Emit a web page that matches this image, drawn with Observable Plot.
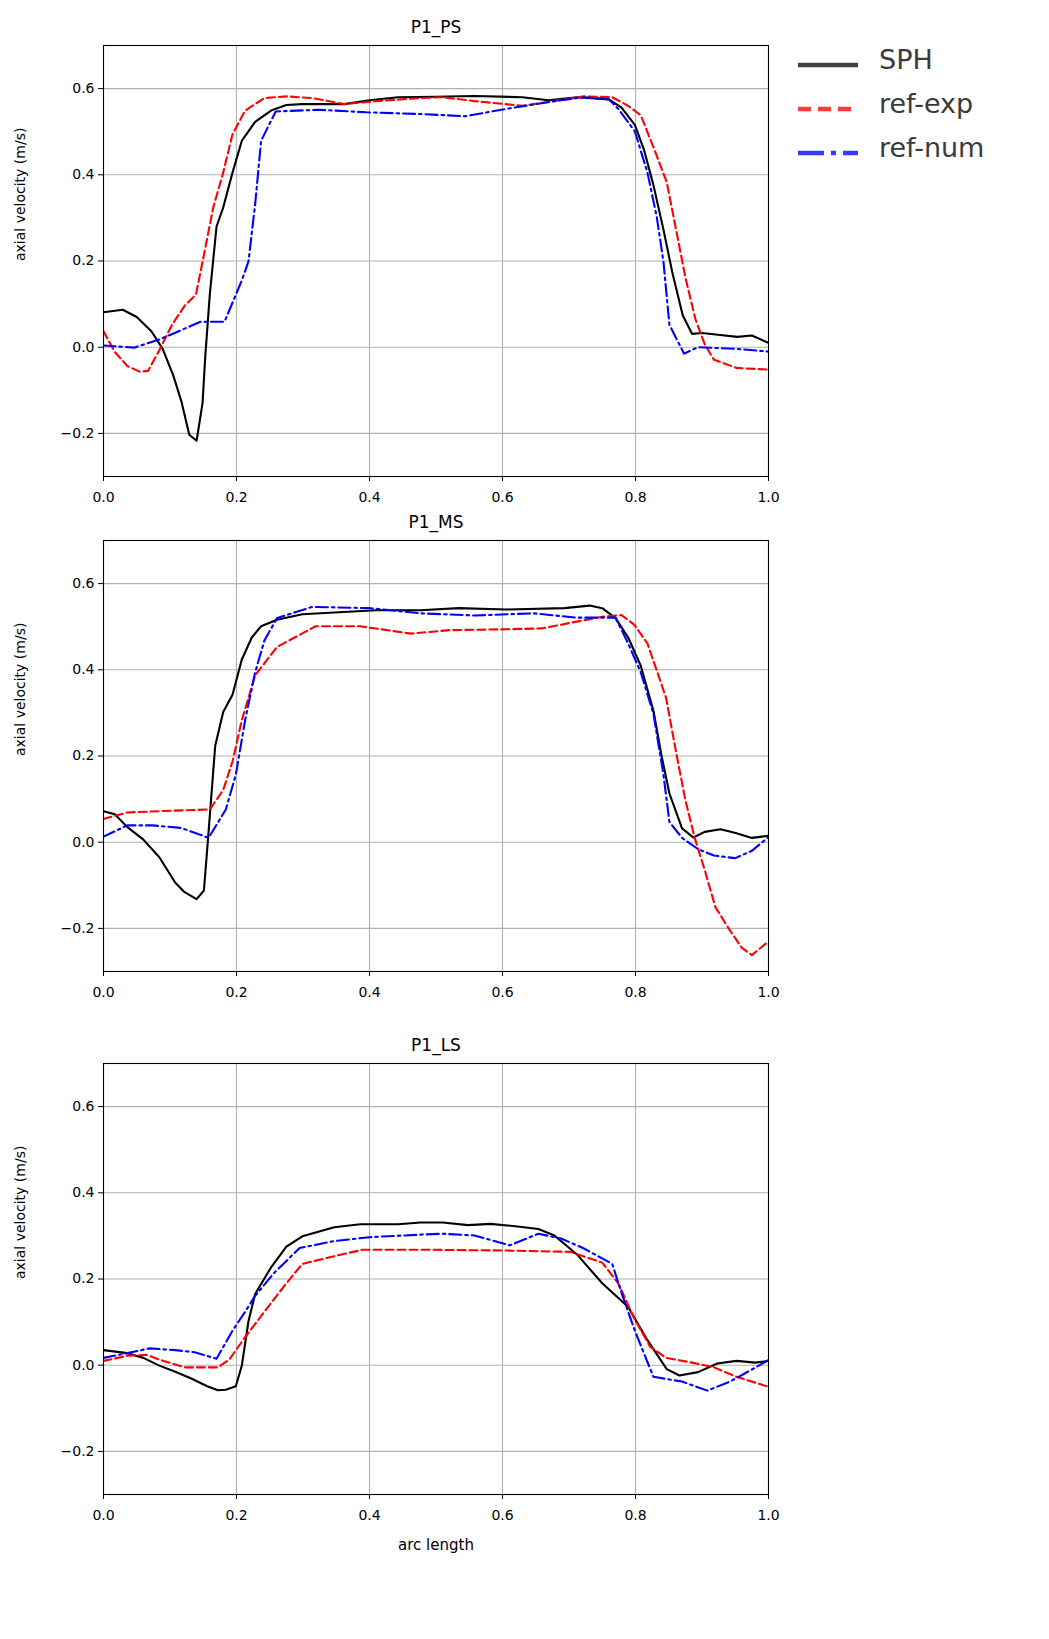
<!DOCTYPE html>
<html>
<head>
<meta charset="utf-8">
<script src="https://cdn.jsdelivr.net/npm/d3@7"></script>
<script src="https://cdn.jsdelivr.net/npm/@observablehq/plot@0.6"></script>
<style>
  html, body { margin: 0; padding: 0; background: #fff; }
  body { width: 1049px; height: 1639px; position: relative; overflow: hidden; font-family: "DejaVu Sans", sans-serif; }
  .panel { position: absolute; left: 0; }
  #legend { position: absolute; left: 797px; top: 42px; font-family: "DejaVu Sans", sans-serif; font-size: 27px; color: #3a3a3a; }
  .item { position: relative; height: 44px; }
  .item svg { position: absolute; left: 0; top: 8px; }
  .item span { position: absolute; left: 82px; top: 2px; white-space: nowrap; }
</style>
</head>
<body>
<div id="legend"></div>
<script>
// ---- data (x = arc length, y = axial velocity m/s) ----
const seriesNames = ["SPH", "ref-exp", "ref-num"];
const panelTitles = ["P1_PS", "P1_MS", "P1_LS"];
const xTicks = [0, 0.2, 0.4, 0.6, 0.8, 1.0];
const yTicks = [-0.2, 0, 0.2, 0.4, 0.6];

const PS_SPH = [[0,0.081],[0.029,0.087],[0.05,0.07],[0.072,0.037],[0.089,-0.004],[0.105,-0.066],[0.117,-0.125],[0.129,-0.203],[0.140,-0.217],[0.149,-0.129],[0.153,-0.022],[0.160,0.125],[0.170,0.28],[0.180,0.324],[0.194,0.405],[0.208,0.479],[0.228,0.523],[0.252,0.549],[0.275,0.562],[0.299,0.564],[0.362,0.564],[0.40,0.573],[0.443,0.58],[0.50,0.581],[0.558,0.583],[0.630,0.58],[0.669,0.573],[0.712,0.580],[0.760,0.575],[0.779,0.556],[0.799,0.516],[0.813,0.457],[0.827,0.376],[0.842,0.273],[0.856,0.169],[0.871,0.074],[0.885,0.031],[0.900,0.033],[0.924,0.029],[0.953,0.024],[0.975,0.027],[1.0,0.01]];
const PS_EXP = [[0,0.037],[0.017,-0.011],[0.036,-0.044],[0.055,-0.057],[0.067,-0.055],[0.084,-0.007],[0.103,0.052],[0.122,0.096],[0.139,0.122],[0.151,0.214],[0.165,0.324],[0.18,0.405],[0.194,0.494],[0.213,0.549],[0.242,0.578],[0.275,0.582],[0.314,0.578],[0.362,0.564],[0.41,0.571],[0.477,0.578],[0.51,0.58],[0.558,0.571],[0.630,0.56],[0.678,0.571],[0.722,0.582],[0.765,0.580],[0.789,0.56],[0.808,0.538],[0.827,0.464],[0.847,0.383],[0.861,0.273],[0.875,0.162],[0.890,0.066],[0.904,0.007],[0.918,-0.029],[0.952,-0.048],[1.0,-0.052]];
const PS_NUM = [[0,0.004],[0.046,-0.001],[0.084,0.018],[0.113,0.037],[0.146,0.059],[0.182,0.059],[0.208,0.155],[0.218,0.199],[0.228,0.331],[0.237,0.479],[0.259,0.547],[0.323,0.551],[0.395,0.545],[0.477,0.541],[0.544,0.536],[0.606,0.553],[0.678,0.571],[0.722,0.58],[0.76,0.575],[0.774,0.553],[0.799,0.501],[0.818,0.405],[0.832,0.302],[0.842,0.199],[0.851,0.052],[0.873,-0.015],[0.894,0.0],[0.952,-0.004],[1.0,-0.01]];

const MS_SPH = [[0,0.072],[0.017,0.065],[0.036,0.035],[0.06,0.006],[0.084,-0.035],[0.108,-0.094],[0.122,-0.116],[0.140,-0.132],[0.151,-0.112],[0.158,0.024],[0.168,0.224],[0.180,0.302],[0.194,0.342],[0.208,0.424],[0.223,0.475],[0.237,0.501],[0.261,0.516],[0.299,0.529],[0.347,0.533],[0.41,0.538],[0.477,0.538],[0.534,0.543],[0.606,0.540],[0.693,0.543],[0.731,0.549],[0.750,0.543],[0.77,0.52],[0.789,0.475],[0.808,0.409],[0.827,0.305],[0.839,0.202],[0.851,0.113],[0.870,0.032],[0.887,0.011],[0.904,0.024],[0.928,0.030],[0.952,0.021],[0.975,0.01],[1.0,0.015]];
const MS_EXP = [[0,0.054],[0.036,0.069],[0.084,0.072],[0.160,0.076],[0.18,0.121],[0.194,0.187],[0.208,0.283],[0.228,0.387],[0.261,0.453],[0.319,0.501],[0.386,0.501],[0.462,0.484],[0.52,0.492],[0.606,0.494],[0.659,0.496],[0.702,0.509],[0.75,0.523],[0.779,0.527],[0.798,0.505],[0.818,0.461],[0.846,0.335],[0.861,0.209],[0.875,0.098],[0.889,0.01],[0.904,-0.064],[0.92,-0.15],[0.94,-0.2],[0.96,-0.245],[0.975,-0.262],[1.0,-0.23]];
const MS_NUM = [[0,0.013],[0.036,0.039],[0.074,0.039],[0.117,0.033],[0.158,0.010],[0.184,0.076],[0.199,0.157],[0.213,0.283],[0.228,0.394],[0.242,0.468],[0.261,0.52],[0.314,0.546],[0.40,0.543],[0.477,0.531],[0.558,0.526],[0.647,0.531],[0.712,0.521],[0.77,0.521],[0.789,0.461],[0.808,0.394],[0.827,0.298],[0.842,0.157],[0.851,0.047],[0.870,0.010],[0.894,-0.016],[0.918,-0.031],[0.95,-0.037],[0.975,-0.02],[1.0,0.012]];

const LS_SPH = [[0,0.035],[0.036,0.028],[0.06,0.017],[0.084,-0.001],[0.108,-0.015],[0.132,-0.031],[0.156,-0.049],[0.172,-0.058],[0.184,-0.057],[0.199,-0.049],[0.208,-0.001],[0.218,0.102],[0.228,0.165],[0.252,0.227],[0.275,0.275],[0.299,0.299],[0.347,0.32],[0.386,0.327],[0.443,0.327],[0.477,0.331],[0.51,0.331],[0.548,0.325],[0.582,0.328],[0.616,0.323],[0.654,0.316],[0.678,0.301],[0.712,0.257],[0.75,0.19],[0.789,0.135],[0.818,0.058],[0.847,-0.009],[0.866,-0.024],[0.894,-0.016],[0.923,0.004],[0.952,0.01],[0.98,0.006],[1.0,0.01]];
const LS_EXP = [[0,0.01],[0.036,0.022],[0.065,0.024],[0.084,0.013],[0.122,-0.005],[0.172,-0.005],[0.189,0.013],[0.213,0.065],[0.242,0.124],[0.275,0.19],[0.299,0.235],[0.347,0.253],[0.39,0.268],[0.477,0.268],[0.606,0.266],[0.702,0.263],[0.75,0.238],[0.774,0.19],[0.798,0.109],[0.822,0.043],[0.846,0.017],[0.885,0.006],[0.918,-0.005],[0.952,-0.027],[1.0,-0.05]];
const LS_NUM = [[0,0.017],[0.036,0.028],[0.069,0.039],[0.108,0.035],[0.137,0.030],[0.170,0.015],[0.194,0.08],[0.213,0.124],[0.228,0.161],[0.256,0.213],[0.295,0.272],[0.347,0.288],[0.40,0.297],[0.477,0.303],[0.51,0.305],[0.558,0.301],[0.611,0.278],[0.654,0.305],[0.688,0.294],[0.721,0.272],[0.765,0.235],[0.779,0.168],[0.799,0.08],[0.827,-0.027],[0.870,-0.038],[0.908,-0.059],[0.942,-0.038],[0.975,-0.01],[1.0,0.012]];

const panelSeries = [[PS_SPH, PS_EXP, PS_NUM], [MS_SPH, MS_EXP, MS_NUM], [LS_SPH, LS_EXP, LS_NUM]];

// ---- styles ----
const lineStyles = [
  {stroke: "#000000", strokeWidth: 2.1, dash: null},
  {stroke: "#ff0000", strokeWidth: 2.1, dash: "8,4"},
  {stroke: "#0000ff", strokeWidth: 2.1, dash: "12,4,2.5,4"}
];
const legendStyles = [
  {stroke: "#404040", dash: null},
  {stroke: "#ff3a3a", dash: "13,7"},
  {stroke: "#3a3aff", dash: "26,7,5,7"}
];
const panelTops = [0, 495, 1018];
const fmt = d3.format(".1f");

function makePanel(i) {
  const last = i === 2;
  const mb = last ? 90 : 44;
  const marks = [
    Plot.gridX(xTicks, {stroke: "#b0b0b0", strokeOpacity: 1, strokeWidth: 1.1}),
    Plot.gridY(yTicks, {stroke: "#b0b0b0", strokeOpacity: 1, strokeWidth: 1.1})
  ];
  panelSeries[i].forEach((arr, k) => {
    const s = lineStyles[k];
    marks.push(Plot.line(arr.map(d => ({x: d[0], y: d[1]})), {
      x: "x", y: "y", stroke: s.stroke, strokeWidth: s.strokeWidth,
      strokeDasharray: s.dash, strokeLinejoin: "round", clip: true
    }));
  });
  marks.push(
    Plot.frame({stroke: "#000", strokeWidth: 1.1}),
    Plot.axisX(xTicks, {tickSize: 5, tickPadding: 11, tickFormat: fmt, fontSize: 14, label: null, stroke: "#000"}),
    Plot.axisY(yTicks, {tickSize: 5, tickPadding: 4, tickFormat: fmt, fontSize: 14, label: null, stroke: "#000"}),
    Plot.text([panelTitles[i]], {frameAnchor: "top", dy: -18, fontSize: 17, fill: "#000", lineAnchor: "middle"}),
    Plot.text(["axial velocity (m/s)"], {frameAnchor: "left", dx: -83, rotate: -90, fontSize: 14, fill: "#000"})
  );
  if (last) {
    marks.push(Plot.text(["arc length"], {frameAnchor: "bottom", dy: 51, fontSize: 15, fill: "#000", lineAnchor: "middle"}));
  }
  const svg = Plot.plot({
    width: 1049,
    height: 45 + 431 + mb,
    marginTop: 45,
    marginBottom: mb,
    marginLeft: 103,
    marginRight: 281,
    x: {domain: [0, 1]},
    y: {domain: [-0.3, 0.7]},
    style: {fontFamily: "DejaVu Sans, sans-serif", fontSize: "14px", color: "#000", background: "transparent"},
    marks
  });
  const div = document.createElement("div");
  div.className = "panel";
  div.style.top = panelTops[i] + "px";
  div.appendChild(svg);
  document.body.appendChild(div);
}
[0, 1, 2].forEach(makePanel);

// ---- legend (outside right of top panel) ----
const legend = document.getElementById("legend");
seriesNames.forEach((name, k) => {
  const item = document.createElement("div");
  item.className = "item";
  const s = legendStyles[k];
  item.innerHTML = `<svg width="62" height="30"><line x1="1" y1="15" x2="61" y2="15" stroke="${s.stroke}" stroke-width="4.5" ${s.dash ? `stroke-dasharray="${s.dash}"` : ""}/></svg><span>${name}</span>`;
  legend.appendChild(item);
});
</script>
</body>
</html>
